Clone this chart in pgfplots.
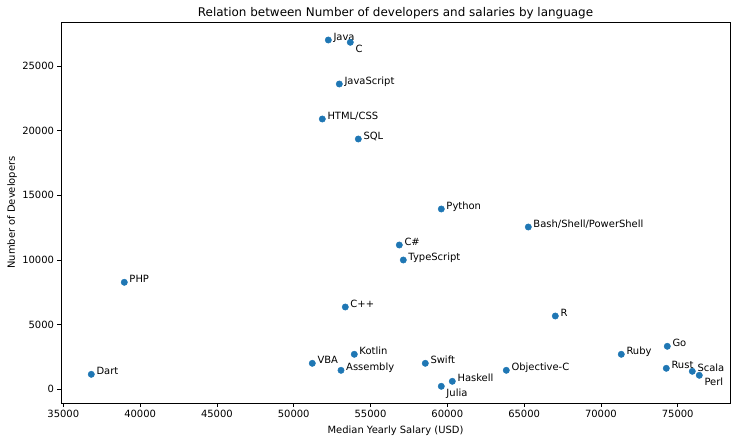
\documentclass[border=0pt]{standalone}
\usepackage{fontspec}
\setmainfont{DejaVu Sans}
\usepackage{pgfplots}
\pgfplotsset{compat=1.18}
\definecolor{mplblue}{RGB}{31,119,180}
\begin{document}
\begin{tikzpicture}
\path[use as bounding box] (-61bp,-38bp) rectangle (675bp,403bp);
\begin{axis}[
  at={(0,0)}, anchor=south west,
  scale only axis,
  width=669bp, height=381bp,
  xmin=34850, xmax=78405,
  ymin=-1084, ymax=28428,
  xtick={35000,40000,...,75000},
  ytick={0,5000,...,25000},
  scaled ticks=false,
  /pgf/number format/.cd, fixed, 1000 sep={}, assume math mode=true, /pgfplots/.cd,
  tick align=outside,
  tick pos=left,
  major tick length=3.5bp,
  tick style={black, line width=0.8bp},
  axis line style={black, line width=0.8bp},
  ticklabel style={font=\fontsize{10}{12}\selectfont},
  title={Relation between Number of developers and salaries by language},
  title style={at={(0.5,1)}, anchor=base, inner sep=0pt, yshift=-0.7bp, font=\fontsize{12}{14}\selectfont},
  xlabel={Median Yearly Salary (USD)},
  xlabel style={at={(rel axis cs:0.5,0)}, anchor=base, inner sep=0pt, yshift=-30bp, font=\fontsize{10}{12}\selectfont},
  ylabel={Number of Developers},
  ylabel style={at={(rel axis cs:0,0.5)}, anchor=base, inner sep=0pt, yshift=46bp, font=\fontsize{10}{12}\selectfont},
  nodes near coords,
  point meta=explicit symbolic,
  nodes near coords style={anchor=base west, inner sep=0pt, xshift=5bp, text=black, font=\fontsize{10}{12}\selectfont},
]
% labels beside the point
\addplot[only marks, mark=*, mark size=3.2bp, mark options={draw=mplblue, fill=mplblue}] coordinates {
  (52253,27033) [Java]
  (52969,23625) [JavaScript]
  (51862,20914) [HTML/CSS]
  (54206,19365) [SQL]
  (59609,13943) [Python]
  (65273,12548) [Bash/Shell/PowerShell]
  (56875,11154) [C\#]
  (57135,9992) [TypeScript]
  (53359,6352) [C++]
  (67031,5655) [R]
  (38971,8265) [PHP]
  (36823,1137) [Dart]
  (51211,1990) [VBA]
  (53945,2688) [Kotlin]
  (53080,1448) [Assembly]
  (58568,1990) [Swift]
  (63841,1448) [Objective-C]
  (60326,596) [Haskell]
  (71328,2688) [Ruby]
  (74323,3307) [Go]
  (74258,1603) [Rust]
  (75951,1371) [Scala]
};
% labels pushed below the point
\addplot[only marks, mark=*, mark size=3.2bp, mark options={draw=mplblue, fill=mplblue},
  nodes near coords style={yshift=-10bp}] coordinates {
  (53685,26855) [C]
  (59609,209) [Julia]
  (76406,1061) [Perl]
};
\end{axis}
\end{tikzpicture}
\end{document}
